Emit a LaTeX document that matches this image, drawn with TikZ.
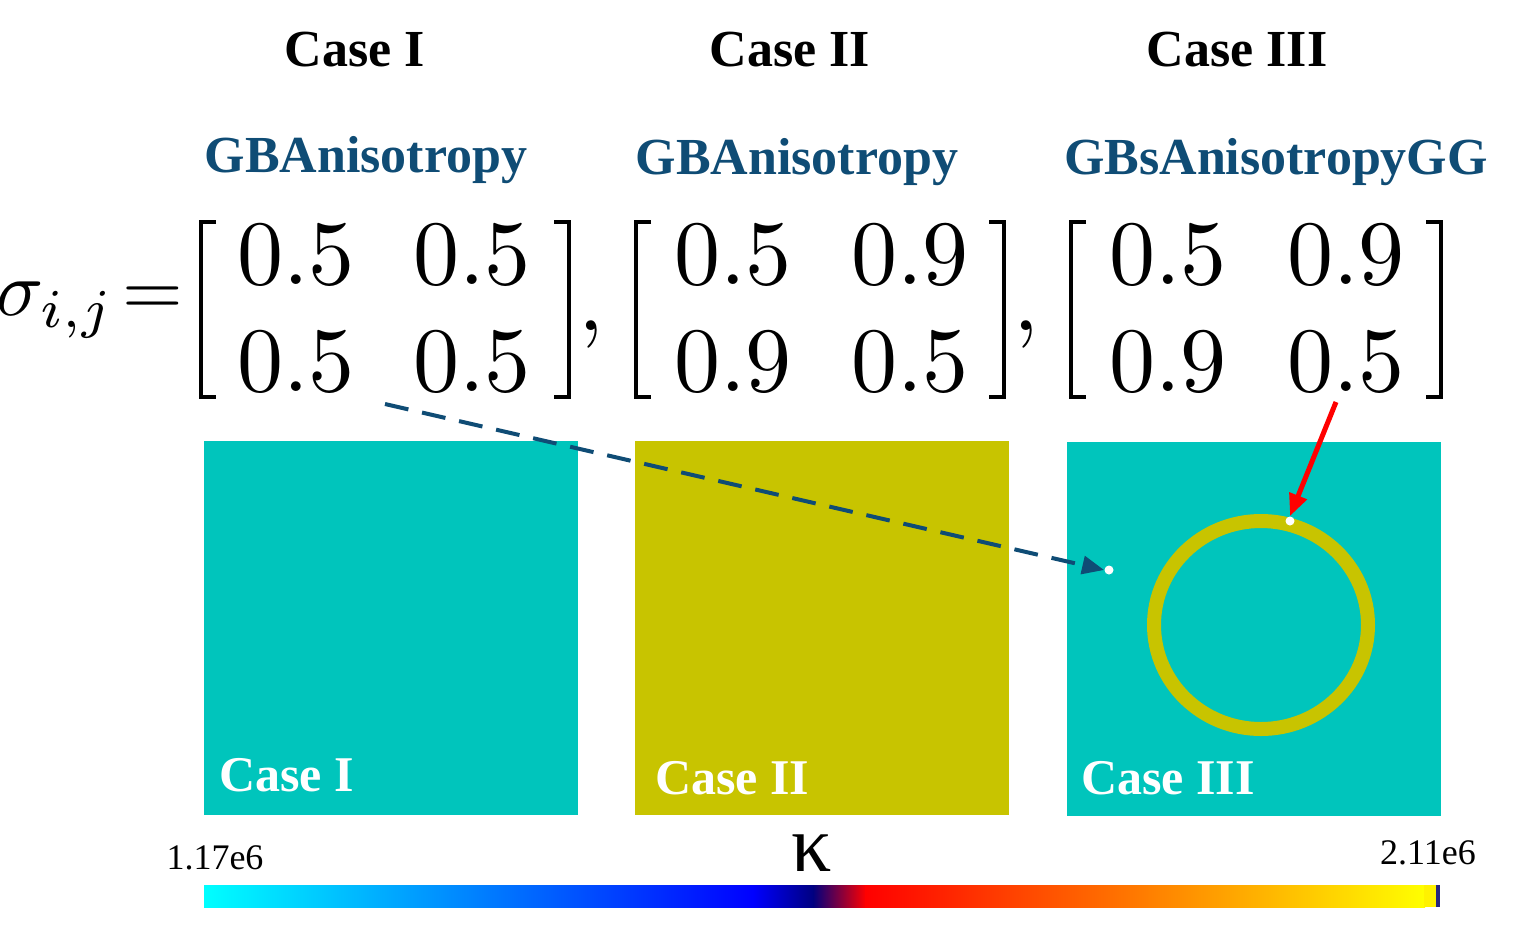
\documentclass[tikz,border=0pt]{standalone}
\usepackage{amsmath}
\usepackage{fontspec}
\setmainfont{Liberation Serif}
\usetikzlibrary{arrows.meta}
\definecolor{teal1}{HTML}{00C5BC}
\definecolor{olive1}{HTML}{C8C400}
\definecolor{dblue}{HTML}{0F4C75}
\definecolor{navy1}{HTML}{00007F}
\tikzset{
  title/.style={font=\fontsize{26}{30}\selectfont\bfseries, text=black},
  kname/.style={font=\fontsize{26}{30}\selectfont\bfseries, text=dblue},
  box/.style={draw=none, minimum width=187pt, minimum height=187pt, inner sep=0},
  inlab/.style={font=\fontsize{25}{29}\selectfont\bfseries, text=white, anchor=west},
  dot/.style={circle, fill=white, inner sep=0, minimum size=4.5pt},
  cbl/.style={font=\fontsize{18}{21}\selectfont},
  entry/.style={inner sep=0},
  brk/.style={line width=2pt}
}
\newcommand{\ent}[1]{\scalebox{4.6}{$#1$}}
\begin{document}
\begin{tikzpicture}[x=0.5pt,y=-0.5pt]
\useasboundingbox (0,0) rectangle (1522,943);
\node[title] (t1) at (355,50) {Case I};
\node[title] (t2) at (790,50) {Case II};
\node[title] (t3) at (1237,50) {Case III};
\node[kname] (k1) at (366,160) {GBAnisotropy};
\node[kname] (k2) at (797,162) {GBAnisotropy};
\node[kname] (k3) at (1276,162) {GBsAnisotropyGG};
% sigma
\node[entry, anchor=east] (sig) at (184,310) {\scalebox{3.9}{$\sigma_{i,j}\!=$}};
% matrices
\foreach \m/\xl/\xr/\ca/\cb/\a/\b/\c/\d in {1/200/570/296/472/0.5/0.5/0.5/0.5, 2/635/1005/733/910/0.5/0.9/0.9/0.5, 3/1070/1442/1168/1346/0.5/0.9/0.9/0.5}{
  \draw[brk] (\xl+16,222) -- (\xl+1,222) -- (\xl+1,397) -- (\xl+16,397);
  \draw[brk] (\xr-16,222) -- (\xr-1,222) -- (\xr-1,397) -- (\xr-16,397);
  \node[entry] (m\m a) at (\ca,255) {\ent{\a}};
  \node[entry] (m\m b) at (\cb,255) {\ent{\b}};
  \node[entry] (m\m c) at (\ca,362) {\ent{\c}};
  \node[entry] (m\m d) at (\cb,362) {\ent{\d}};
}
\node[entry] (cm1) at (591,335) {\ent{,}};
\node[entry] (cm2) at (1026,335) {\ent{,}};
\node[box, fill=teal1] (b1) at (391,628) {};
\node[box, fill=olive1] (b2) at (822,628) {};
\node[box, fill=teal1] (b3) at (1253.5,628.5) {};
\node[inlab] (l1) at (212,775) {Case I};
\node[inlab] (l2) at (648,778) {Case II};
\node[inlab] (l3) at (1074,778) {Case III};
\draw[olive1, line width=7pt] (1261,625) ellipse [x radius=107, y radius=104];
\node[dot] (d1) at (1290,521) {};
\node[dot] (d2) at (1109,570) {};
\coordinate (s1) at (385,404);
\coordinate (s2) at (1336,402);
\draw[dblue, line width=2pt, dash pattern=on 12pt off 7pt, -{Triangle[length=11pt,width=9pt]}] (s1) -- (d2.west);
\draw[red, line width=2.5pt, -{Triangle[length=11pt,width=9pt]}] (s2) -- (d1.north);
% colorbar
\fill[left color=cyan, right color=blue] (204,885) rectangle (754,907);
\fill[left color=blue, right color=navy1] (753,885) rectangle (814,907);
\fill[left color=navy1, right color=red] (813,885) rectangle (866,907);
\fill[left color=red, right color=orange] (865,885) rectangle (1150,907);
\fill[left color=orange, right color=yellow] (1149,885) rectangle (1425,907);
\fill[yellow] (1424,885) rectangle (1436,907);
\fill[navy1!70!gray] (1436,885) rectangle (1440,907);
\node[cbl] (c1) at (215,858) {1.17e6};
\node (c2) at (812,853) {\fontsize{40}{44}\selectfont κ};
\node[cbl] (c3) at (1428,853) {2.11e6};
\end{tikzpicture}
\end{document}
